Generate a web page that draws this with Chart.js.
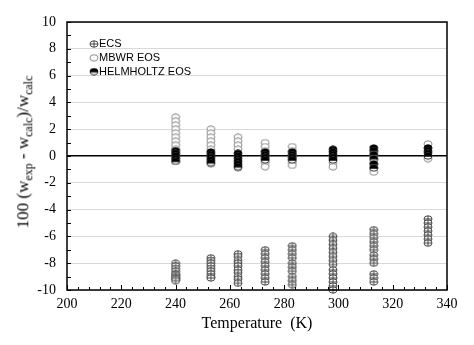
<!DOCTYPE html>
<html>
<head>
<meta charset="utf-8">
<script src="https://cdn.jsdelivr.net/npm/chart.js@4/dist/chart.umd.min.js"></script>
<style>
  body { margin: 0; background: #fff; }
  #wrap { position: relative; width: 474px; height: 345px; }
  #ytitle {
    position: absolute; left: 25px; top: 152px;
    transform: translate(-50%, -50%) rotate(-90deg);
    font-family: "Liberation Serif", serif; font-size: 17px; color: #000;
    white-space: nowrap;
  }
  #ytitle sub { font-size: 12px; }
</style>
</head>
<body>
<div id="wrap">
  <canvas id="chart" width="474" height="345"></canvas>
  <div id="ytitle">100 (w<sub>exp</sub> - w<sub>calc</sub>)/w<sub>calc</sub></div>
</div>
<script>
// temperatures (K) where the measurements were taken
var temps = [240, 253, 263, 273, 283, 298, 313, 333];

// deviations, one list per temperature
var ecsDev = [
  [-8.0, -8.2, -8.4, -8.6, -8.8, -8.9, -9.0, -9.1, -9.2, -9.3],
  [-7.6, -7.8, -8.0, -8.2, -8.4, -8.6, -8.8, -9.0, -9.1],
  [-7.3, -7.5, -7.8, -8.0, -8.2, -8.5, -8.7, -9.0, -9.2, -9.5],
  [-7.0, -7.3, -7.6, -7.9, -8.2, -8.5, -8.8, -9.1, -9.4],
  [-6.7, -7.0, -7.3, -7.6, -8.0, -8.3, -8.6, -9.0, -9.3, -9.6],
  [-6.0, -6.3, -6.6, -6.9, -7.2, -7.5, -7.8, -8.1, -8.5, -8.8, -9.1, -9.4, -9.7, -10.0],
  [-5.5, -5.8, -6.1, -6.4, -6.7, -7.0, -7.4, -7.7, -8.0, -8.8, -9.1, -9.4],
  [-4.7, -5.0, -5.3, -5.6, -5.9, -6.2, -6.5]
];
var mbwrDev = [
  [2.9, 2.6, 2.3, 2.0, 1.7, 1.4, 1.1, 0.8, 0.5, 0.2, -0.1, -0.4],
  [2.0, 1.7, 1.4, 1.1, 0.8, 0.5, 0.2, -0.1, -0.4, -0.6],
  [1.4, 1.1, 0.8, 0.5, 0.2, -0.1, -0.4, -0.7, -0.9],
  [1.0, 0.7, 0.4, 0.1, -0.2, -0.5, -0.8],
  [0.7, 0.4, 0.1, -0.2, -0.5, -0.7],
  [0.4, 0.1, -0.2, -0.5, -0.8],
  [0.3, 0.0, -0.3, -0.6, -0.9, -1.2],
  [0.9, 0.6, 0.3, 0.0, -0.2]
];
var helmDev = [
  [0.4, 0.2, 0.0, -0.2, -0.4],
  [0.3, 0.1, -0.1, -0.3, -0.5],
  [0.2, 0.0, -0.2, -0.4, -0.6, -0.8],
  [0.3, 0.1, -0.1, -0.3],
  [0.3, 0.1, -0.1, -0.3],
  [0.5, 0.3, 0.1, -0.1, -0.3],
  [0.6, 0.4, 0.1, -0.2, -0.6, -0.9],
  [0.6, 0.4, 0.2, 0.0]
];

var seriesNames = ["ECS", "MBWR EOS", "HELMHOLTZ EOS"];
var xTicks = { min: 200, max: 340, step: 20, minor: 4 };
var yTicks = { min: -10, max: 10, step: 2, minor: 1 };

// turn the per-temperature lists into x/y points
function toPoints(groups) {
  var pts = [];
  groups.forEach(function (g, i) {
    g.forEach(function (v) { pts.push({ x: temps[i], y: v }); });
  });
  return pts;
}

// small canvases used as point markers
function makeMarker(kind) {
  var c = document.createElement("canvas");
  c.width = 10; c.height = 8;
  var g = c.getContext("2d");
  g.lineWidth = 1;
  g.beginPath();
  g.ellipse(5, 4, 4, 3.2, 0, 0, Math.PI * 2);
  if (kind === "ecs") {
    g.fillStyle = "#fff"; g.fill();
    g.strokeStyle = "#444"; g.stroke();
    g.beginPath();
    g.moveTo(1, 4); g.lineTo(9, 4);
    g.moveTo(5, 0.8); g.lineTo(5, 7.2);
    g.stroke();
  } else if (kind === "mbwr") {
    g.fillStyle = "#fff"; g.fill();
    g.strokeStyle = "#8a8a8a"; g.stroke();
  } else {
    g.fillStyle = "#fff"; g.fill();
    g.strokeStyle = "#333"; g.stroke();
    g.beginPath();
    g.ellipse(5, 4, 4, 3.2, 0, Math.PI, Math.PI * 2);
    g.lineTo(9, 4.8); g.lineTo(1, 4.8);
    g.closePath();
    g.fillStyle = "#000"; g.fill();
  }
  return c;
}
var markers = [makeMarker("ecs"), makeMarker("mbwr"), makeMarker("helm")];

// frame, inward minor ticks and the legend inside the plot
var framePlugin = {
  id: "frame",
  afterDraw: function (chart) {
    var ctx = chart.ctx, a = chart.chartArea;
    var xs = chart.scales.x, ys = chart.scales.y;
    ctx.save();
    ctx.strokeStyle = "#000";
    ctx.lineWidth = 1.5;
    ctx.strokeRect(a.left, a.top, a.right - a.left, a.bottom - a.top);
    ctx.lineWidth = 1;
    ctx.beginPath();
    for (var v = yTicks.min; v <= yTicks.max; v += yTicks.minor) {
      var py = Math.round(ys.getPixelForValue(v)) + 0.5;
      ctx.moveTo(a.left, py); ctx.lineTo(a.left + 4, py);
    }
    for (var t = xTicks.min; t <= xTicks.max; t += xTicks.minor) {
      var px = Math.round(xs.getPixelForValue(t)) + 0.5;
      var len = (t % xTicks.step === 0) ? 5 : 3;
      ctx.moveTo(px, a.bottom); ctx.lineTo(px, a.bottom - len);
    }
    ctx.stroke();

    // legend
    ctx.font = "11px 'Liberation Sans', Arial, sans-serif";
    ctx.fillStyle = "#000";
    ctx.textBaseline = "middle";
    seriesNames.forEach(function (name, i) {
      var ly = 44 + i * 13.8;
      ctx.drawImage(markers[i], 89, ly - 4);
      ctx.fillText(name, 99, ly);
    });
    ctx.restore();
  }
};

var serif = { family: "'Liberation Serif', 'Times New Roman', serif", size: 14 };

new Chart(document.getElementById("chart"), {
  type: "scatter",
  data: {
    datasets: [
      { label: seriesNames[0], data: toPoints(ecsDev), pointStyle: markers[0], order: 3, clip: false },
      { label: seriesNames[1], data: toPoints(mbwrDev), pointStyle: markers[1], order: 2, clip: false },
      { label: seriesNames[2], data: toPoints(helmDev), pointStyle: markers[2], order: 1, clip: false }
    ]
  },
  options: {
    responsive: false,
    animation: false,
    layout: { padding: { top: 22, right: 27, left: 0, bottom: 12 } },
    plugins: { legend: { display: false }, tooltip: { enabled: false } },
    scales: {
      x: {
        type: "linear",
        min: xTicks.min, max: xTicks.max,
        ticks: { stepSize: xTicks.step, color: "#000", font: serif, padding: 6, maxRotation: 0 },
        grid: { display: false, drawTicks: false },
        border: { display: false },
        title: {
          display: true, text: "Temperature  (K)", color: "#000",
          font: { family: serif.family, size: 16 }, padding: { top: 0, bottom: 0 }
        },
        afterFit: function (scale) { scale.height = 43; }
      },
      y: {
        min: yTicks.min, max: yTicks.max,
        ticks: { stepSize: yTicks.step, color: "#000", font: serif, padding: 11 },
        grid: {
          drawTicks: false,
          color: function (c) { return c.tick && c.tick.value === 0 ? "#000" : "#d9d9d9"; },
          lineWidth: function (c) { return c.tick && c.tick.value === 0 ? 1.4 : 1; }
        },
        border: { display: false },
        afterFit: function (scale) { scale.width = 67; }
      }
    }
  },
  plugins: [framePlugin]
});
</script>
</body>
</html>
